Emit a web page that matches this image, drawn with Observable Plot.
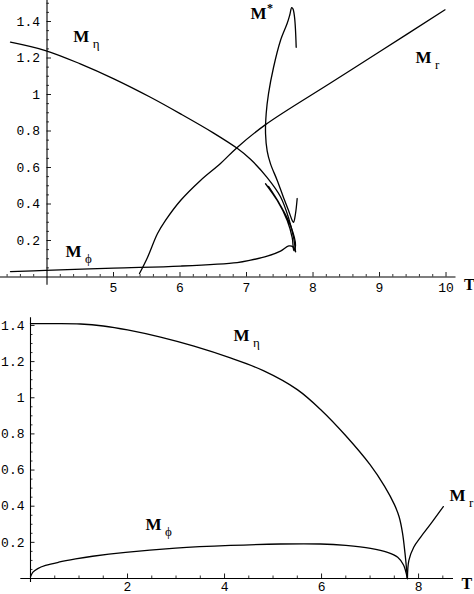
<!DOCTYPE html>
<html><head><meta charset="utf-8">
<script src="https://cdn.jsdelivr.net/npm/d3@7"></script>
<script src="https://cdn.jsdelivr.net/npm/@observablehq/plot@0.6"></script>
<style>
body{margin:0;background:#fff;}
#chart svg{display:block;background:#fff;}
</style>
</head><body><div id="chart"></div>
<script>
// ---------- TOP PANEL DATA: [T, M] ----------
const topEta = [[3.451,1.287],[3.977,1.241],[4.5,1.168],[5.005,1.086],[5.556,0.985],[6.008,0.894],[6.5,0.79],[6.86,0.705],[7.06,0.645],[7.311,0.545],[7.511,0.44],[7.636,0.32],[7.711,0.21],[7.737,0.14]];
const topPhi = [[3.451,0.030],[3.977,0.036],[5.0,0.049],[6.008,0.060],[6.86,0.079],[7.06,0.092],[7.311,0.114],[7.511,0.142],[7.636,0.170],[7.70,0.165],[7.737,0.138]];
const topR = [[5.391,0.019],[5.511,0.107],[5.662,0.238],[5.782,0.31],[6.008,0.419],[6.308,0.529],[6.609,0.622],[6.86,0.71],[7.286,0.835],[8.263,1.063],[9.0,1.234],[9.985,1.464]];
const topStar = [[7.747,1.259],[7.737,1.351],[7.722,1.424],[7.7,1.468],[7.68,1.476],[7.651,1.437],[7.612,1.39],[7.511,1.296],[7.406,1.148],[7.331,1.005],[7.296,0.896],[7.286,0.786],[7.311,0.69],[7.361,0.62],[7.462,0.529],[7.556,0.436],[7.632,0.364],[7.687,0.31],[7.707,0.299],[7.737,0.348],[7.762,0.43]];
const topLoop = [[7.286,0.511],[7.462,0.419],[7.612,0.31],[7.687,0.216],[7.711,0.145],[7.737,0.173],[7.662,0.282],[7.511,0.392],[7.331,0.496]];
const topXMajor = [5,6,7,8,9,10];
const topYMajor = [0.2,0.4,0.6,0.8,1,1.2,1.4];
const topXAxis = [3.30,10.15];   // extent of the T axis line
const topYAxis = [-0.045,1.515]; // extent of the M axis line
const topOrigin = [4,0];
const topLabels = [
  {T:4.394, v:1.29, sub:"η"},
  {T:4.278, v:0.109, sub:"ϕ"},
  {T:7.06, v:1.416, sup:"*"},
  {T:9.54, v:1.175, sub:"r"}
];

// ---------- BOTTOM PANEL DATA: [T, M] ----------
const botEta = [[0,1.41],[0.5,1.41],[1.03,1.408],[1.5,1.397],[2.0,1.375],[2.68,1.335],[3.37,1.285],[4.12,1.22],[4.8,1.15],[5.5,1.045],[6.0,0.93],[6.5,0.79],[7.0,0.63],[7.3,0.51],[7.5,0.41],[7.6,0.34],[7.67,0.25],[7.72,0.14],[7.77,0]];
const botPhi = [[0,0.01],[0.05,0.035],[0.15,0.055],[0.31,0.072],[0.58,0.09],[0.93,0.108],[1.28,0.123],[1.96,0.145],[2.99,0.168],[4.12,0.183],[5.15,0.191],[5.98,0.191],[6.5,0.183],[7.01,0.167],[7.36,0.145],[7.57,0.118],[7.69,0.075],[7.77,0]];
const botR = [[7.77,0],[7.80,0.1],[7.90,0.173],[8.04,0.228],[8.25,0.302],[8.51,0.398]];
const botXMajor = [2,4,6,8];
const botYMajor = [0.2,0.4,0.6,0.8,1,1.2,1.4];
const botXAxis = [-0.2,8.72];
const botYAxis = [-0.022,1.442];
const botOrigin = [0,0];
const botLabels = [
  {T:4.186, v:1.315, sub:"η"},
  {T:2.371, v:0.271, sub:"ϕ"},
  {T:8.64, v:0.431, sub:"r"}
];

const fmt = d => String(+d.toFixed(2));
const mono = "'Liberation Mono', 'Courier New', 'DejaVu Sans Mono', monospace";
const serif = "'Liberation Serif', 'Times New Roman', serif";

function panel(cfg) {
  const [ox, oy] = cfg.origin;
  const series = cfg.series.map(s => Plot.line(s, {x: d => d[0], y: d => d[1], curve: "catmull-rom", stroke: "black", strokeWidth: 1.3}));
  return Plot.plot({
    width: 474, height: cfg.height,
    marginLeft: cfg.ml, marginRight: cfg.mr, marginTop: cfg.mt, marginBottom: cfg.mb,
    x: {domain: cfg.xDomain, axis: null},
    y: {domain: cfg.yDomain, axis: null},
    style: {background: "white", color: "black"},
    marks: [
      Plot.ruleY([oy], {y: d => d, x1: () => cfg.xAxis[0], x2: () => cfg.xAxis[1], stroke: "black", strokeWidth: 1.1}),
      Plot.ruleX([ox], {x: d => d, y1: () => cfg.yAxis[0], y2: () => cfg.yAxis[1], stroke: "black", strokeWidth: 1.1}),
      Plot.ruleX(cfg.xMinor, {x: d => d, y1: () => oy, y2: () => oy, insetTop: -2.5, stroke: "black", strokeWidth: 0.8}),
      Plot.ruleX(cfg.xMajor, {x: d => d, y1: () => oy, y2: () => oy, insetTop: -4.5, stroke: "black", strokeWidth: 0.9}),
      Plot.ruleY(cfg.yMinor, {y: d => d, x1: () => ox, x2: () => ox, insetRight: -2.5, stroke: "black", strokeWidth: 0.8}),
      Plot.ruleY(cfg.yMajor, {y: d => d, x1: () => ox, x2: () => ox, insetRight: -4.5, stroke: "black", strokeWidth: 0.9}),
      Plot.text(cfg.xMajor, {x: d => d, y: () => oy, text: fmt, lineAnchor: "top", dy: cfg.xdy, fontFamily: mono, fontSize: 13}),
      Plot.text(cfg.yMajor, {x: () => ox, y: d => d, text: fmt, textAnchor: "end", dx: cfg.ydx, fontFamily: mono, fontSize: 13}),
      Plot.text(["T"], {x: () => cfg.xAxis[1], y: () => oy, text: d => d, textAnchor: "start", dx: 8, dy: cfg.tdy, fontFamily: serif, fontWeight: "bold", fontSize: 16}),
      ...series,
      Plot.text(cfg.labels, {x: "T", y: "v", text: () => "M", textAnchor: "start", lineAnchor: "bottom", fontFamily: serif, fontWeight: "bold", fontSize: 17}),
      Plot.text(cfg.labels.filter(d => d.sub), {x: "T", y: "v", text: "sub", textAnchor: "start", lineAnchor: "bottom", dx: 19.5, dy: 6, fontFamily: serif, fontSize: 13}),
      Plot.text(cfg.labels.filter(d => d.sup), {x: "T", y: "v", text: "sup", textAnchor: "start", lineAnchor: "bottom", dx: 16.5, dy: -7, fontFamily: serif, fontWeight: "bold", fontSize: 12})
    ]
  });
}

const topPanel = panel({
  height: 296, ml: 46.5, mr: 18.5, mt: 2.75, mb: 19.5,
  xDomain: [4, 10.15], yDomain: [0, 1.5],
  origin: topOrigin, xAxis: topXAxis, yAxis: topYAxis,
  xMajor: topXMajor, yMajor: topYMajor,
  xMinor: d3.range(3.4, 10.01, 0.2).filter(t => Math.abs(t - Math.round(t)) > 0.01),
  yMinor: d3.range(0.05, 1.51, 0.05).filter(t => Math.abs(t*5 - Math.round(t*5)) > 0.01),
  xdy: 5.5, ydx: -7, tdy: 8,
  series: [topEta, topPhi, topR, topStar, topLoop],
  labels: topLabels
});
const bottomPanel = panel({
  height: 298, ml: 30, mr: 21, mt: 21.36, mb: 16,
  xDomain: [0, 8.72], yDomain: [0, 1.442],
  origin: botOrigin, xAxis: botXAxis, yAxis: botYAxis,
  xMajor: botXMajor, yMajor: botYMajor,
  xMinor: d3.range(0.5, 8.6, 0.5).filter(t => Math.abs(t - 2*Math.round(t/2)) > 0.01),
  yMinor: d3.range(0.05, 1.44, 0.05).filter(t => Math.abs(t*5 - Math.round(t*5)) > 0.01),
  xdy: 3.5, ydx: -6, tdy: 5.5,
  series: [botEta, botPhi, botR],
  labels: botLabels
});
document.getElementById("chart").append(topPanel, bottomPanel);
</script>
</body></html>
